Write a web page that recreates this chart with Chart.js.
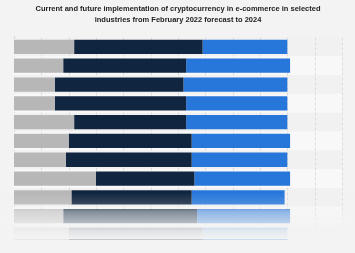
<!DOCTYPE html>
<html>
<head>
<meta charset="utf-8">
<script src="https://cdn.jsdelivr.net/npm/chart.js@4"></script>
<style>
  html, body { margin: 0; padding: 0; background: #f3f3f3; }
  #wrap { width: 355px; height: 253px; position: relative; }
</style>
</head>
<body>
<div id="wrap"><canvas id="crypto-chart"></canvas></div>
<script>
// Industries are not named in the picture (labels hidden)
const industries = ['1', '2', '3', '4', '5', '6', '7', '8', '9', '10', '11'];
const alreadyImplemented = [22, 18, 15, 15, 22, 20, 19, 30, 21, 18, 20];
const plannedBy2024 = [47, 45, 47, 48, 41, 45, 46, 36, 44, 49, 49];
const noPlans = [31, 38, 38, 37, 37, 36, 35, 35, 34, 34, 31];
const xTicks = [0, 10, 20, 30, 40, 50, 60, 70, 80, 90, 100, 110, 120];

// Row banding behind the bars
const bandPlugin = {
  id: 'bands',
  beforeDatasetsDraw: function (chart) {
    const ctx = chart.ctx;
    const area = chart.chartArea;
    const y = chart.scales.y;
    const step = (y.getPixelForValue(1) - y.getPixelForValue(0));
    for (let i = 0; i < industries.length; i++) {
      const top = y.getPixelForValue(i) - step / 2;
      ctx.fillStyle = (i % 2 == 0) ? '#f1f1f1' : '#f8f8f8';
      ctx.fillRect(area.left, top, area.right - area.left, step);
    }
    // dashed grid lines, drawn over the bands
    const x = chart.scales.x;
    ctx.save();
    ctx.strokeStyle = '#dcdcdc';
    ctx.lineWidth = 1;
    ctx.setLineDash([3, 2]);
    xTicks.forEach((v) => {
      if (v == 0) return;
      const px = Math.round(x.getPixelForValue(v)) + 0.5;
      ctx.beginPath();
      ctx.moveTo(px, area.top);
      ctx.lineTo(px, area.bottom);
      ctx.stroke();
    });
    ctx.restore();
  }
};

// Fade the lower rows into the background
const fadePlugin = {
  id: 'fade',
  afterDraw: function (chart) {
    const ctx = chart.ctx;
    const y = chart.scales.y;
    const start = y.getPixelForValue(7.75);
    const end = y.getPixelForValue(10.25);
    const grad = ctx.createLinearGradient(0, start, 0, end);
    grad.addColorStop(0, 'rgba(243,243,243,0)');
    grad.addColorStop(0.29, 'rgba(243,243,243,0.2)');
    grad.addColorStop(0.4, 'rgba(243,243,243,0.5)');
    grad.addColorStop(0.7, 'rgba(243,243,243,0.78)');
    grad.addColorStop(0.82, 'rgba(243,243,243,0.92)');
    grad.addColorStop(1, 'rgba(243,243,243,1)');
    ctx.fillStyle = grad;
    ctx.fillRect(0, start, chart.width, end - start);
    ctx.fillStyle = '#f3f3f3';
    ctx.fillRect(0, end, chart.width, chart.height - end);
  }
};

var cryptoctx = document.getElementById('crypto-chart').getContext('2d');
var cryptoChart = new Chart(cryptoctx, {
  type: 'bar',
  data: {
    labels: industries,
    datasets: [
      { label: 'Already implemented', data: alreadyImplemented, backgroundColor: '#b7b7b7' },
      { label: 'Planned by 2024', data: plannedBy2024, backgroundColor: '#10253f' },
      { label: 'No plans', data: noPlans, backgroundColor: '#2777db' }
    ]
  },
  plugins: [bandPlugin, fadePlugin],
  options: {
    indexAxis: 'y',
    responsive: true,
    maintainAspectRatio: false,
    animation: false,
    layout: {
      padding: { left: 14, right: 13, top: 0, bottom: 8.6 }
    },
    datasets: {
      bar: { barPercentage: 1, categoryPercentage: 0.76, borderWidth: 0 }
    },
    scales: {
      x: {
        stacked: true,
        min: 0,
        max: 120,
        afterBuildTicks: function (axis) {
          axis.ticks = xTicks.map((v) => ({ value: v }));
        },
        afterFit: function (axis) { axis.height = 0; },
        ticks: { display: false },
        grid: { display: false, drawTicks: false },
        border: { display: false }
      },
      y: {
        stacked: true,
        afterFit: function (axis) { axis.width = 0; },
        ticks: { display: false },
        grid: { display: false, drawTicks: false },
        border: { display: true, color: '#777777', width: 1 }
      }
    },
    plugins: {
      legend: { display: false },
      tooltip: { enabled: false },
      title: {
        display: true,
        text: ['Current and future implementation of cryptocurrency in e-commerce in selected',
               'industries from February 2022 forecast to 2024'],
        color: '#222222',
        font: { family: 'Liberation Sans', size: 7.5, weight: 'bold', lineHeight: 1.5 },
        padding: { top: 3, bottom: 12 }
      }
    }
  }
});
</script>
</body>
</html>
